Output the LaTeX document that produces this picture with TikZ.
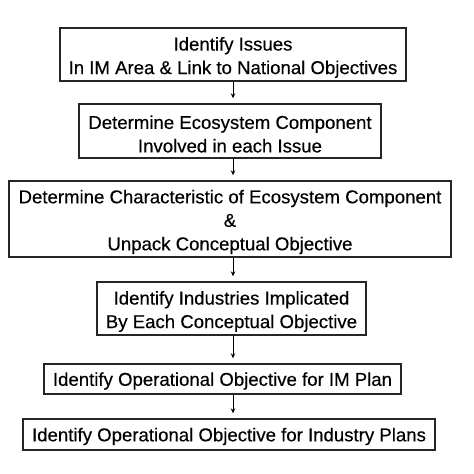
\documentclass[tikz,border=0pt]{standalone}
\usepackage{fontspec}
\setmainfont{Liberation Sans}
\newfontfamily\heavysans{Liberation Sans}[FakeBold=0.35]
\usetikzlibrary{arrows.meta}
\begin{document}
\begin{tikzpicture}[x=1pt,y=-1pt,
  stepbox/.style={draw=black!85,line width=1.4pt,inner sep=0pt},
  steptext/.style={align=center,inner sep=0pt,yshift=-3pt,
    font=\heavysans\fontsize{18.6}{23.5}\selectfont},
  flow/.style={line width=0.9pt,-{Stealth[length=5pt,width=4.5pt]},shorten >=5pt}]
\useasboundingbox (0,0) rectangle (474,474);
\coordinate (ax) at (233,0);
\node[stepbox,minimum width=346pt,minimum height=53pt] (b1) at (233,54.5) {};
\node[steptext] (t1) at (b1) {Identify Issues\\In IM Area \& Link to National Objectives};
\node[stepbox,minimum width=302pt,minimum height=54pt] (b2) at (230,131) {};
\node[steptext] (t2) at (b2) {Determine Ecosystem Component\\Involved in each Issue};
\node[stepbox,minimum width=442pt,minimum height=76pt] (b3) at (230,219) {};
\node[steptext] (t3) at (b3) {Determine Characteristic of Ecosystem Component\\\&\\Unpack Conceptual Objective};
\node[stepbox,minimum width=269pt,minimum height=53pt] (b4) at (231.5,308.5) {};
\node[steptext] (t4) at (b4) {Identify Industries Implicated\\By Each Conceptual Objective};
\node[stepbox,minimum width=357pt,minimum height=30pt] (b5) at (222.5,379) {};
\node[steptext,yshift=1pt] (t5) at (b5) {Identify Operational Objective for IM Plan};
\node[stepbox,minimum width=412pt,minimum height=31pt] (b6) at (229,434.5) {};
\node[steptext,yshift=1pt] (t6) at (b6) {Identify Operational Objective for Industry Plans};
\draw[flow] (b1.south -| ax) -- (b2.north -| ax);
\draw[flow] (b2.south -| ax) -- (b3.north -| ax);
\draw[flow] (b3.south -| ax) -- (b4.north -| ax);
\draw[flow] (b4.south -| ax) -- (b5.north -| ax);
\draw[flow] (b5.south -| ax) -- (b6.north -| ax);
\end{tikzpicture}
\end{document}
